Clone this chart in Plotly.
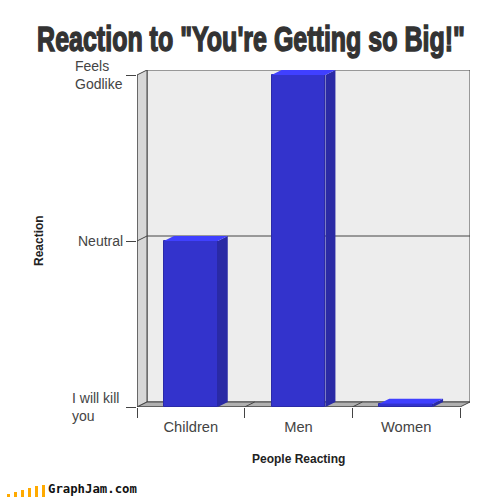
import plotly.graph_objects as go

title = 'Reaction to "You\'re Getting so Big!"'
categories = ["Children", "Men", "Women"]
reaction = [1.0, 2.0, 0.02]
level_vals = [0, 1, 2]
level_labels = ["I will kill<br>you", "Neutral", "Feels<br>Godlike"]
logo_heights = [3, 5, 7, 9, 11, 12]

# fake 3d depth, in axis units (10px across, 5px up)
DX = 10 / 107.67
DY = 5 / 166
HALF = 0.25
LINE = "#444444"
FONT = "Liberation Sans"
W, H = 504, 497


def seg(x0, y0, x1, y1, color=LINE):
    return dict(type="line", x0=x0, y0=y0, x1=x1, y1=y1, layer="below",
                line=dict(color=color, width=1))


def poly(xs, ys, fill):
    path = "M " + " L ".join(f"{x},{y}" for x, y in zip(xs, ys)) + " Z"
    return dict(type="path", path=path, layer="below", fillcolor=fill,
                line=dict(color=LINE, width=1))


left, right = -0.5, len(categories) - 0.5
top = max(level_vals)

shapes = [
    # back wall, side wall, floor
    poly([left + DX, right + DX, right + DX, left + DX],
         [DY, DY, top + DY, top + DY], "#ededed"),
    poly([left, left + DX, left + DX, left],
         [0, DY, top + DY, top], "#d7d7d7"),
    poly([left, left + DX, right + DX, right],
         [0, DY, DY, 0], "#b0b0b0"),
]
for v in level_vals[1:-1]:
    shapes.append(seg(left, v, left + DX, v + DY))
    shapes.append(seg(left + DX, v + DY, right + DX, v + DY))
for i in range(1, len(categories)):
    shapes.append(seg(left + i, 0, left + i + DX, DY))
shapes.append(seg(left, 0, right, 0))
shapes.append(seg(left, 0, left, top))

xs_side, ys_side, xs_top, ys_top = [], [], [], []
for i, v in enumerate(reaction):
    r = i + HALF
    l = i - HALF
    xs_side += [r, r + DX, r + DX, r, None]
    ys_side += [0, DY, v + DY, v, None]
    xs_top += [l, l + DX, r + DX, r, None]
    ys_top += [v, v + DY, v + DY, v, None]

fig = go.Figure()
fig.add_trace(go.Bar(x=list(range(len(categories))), y=reaction, width=2 * HALF,
                     marker=dict(color="#3333cc", line=dict(color="#2a2aa8", width=1))))
fig.add_trace(go.Scatter(x=xs_side, y=ys_side, mode="lines", fill="toself",
                         fillcolor="#2a2aa5", line=dict(width=0), cliponaxis=False))
fig.add_trace(go.Scatter(x=xs_top, y=ys_top, mode="lines", fill="toself",
                         fillcolor="#4040ff", line=dict(width=0), cliponaxis=False))
# logo bars
fig.add_trace(go.Bar(x=list(range(len(logo_heights))), y=logo_heights, width=0.43,
                     marker=dict(color="#ffaa00", line=dict(width=0)),
                     xaxis="x2", yaxis="y2"))

annotations = []
for v, lab, shift in zip(level_vals, level_labels, [-16, -12, -12]):
    annotations.append(dict(x=left, y=v, xref="x", yref="y", text=lab, showarrow=False,
                            xanchor="right", align="left", xshift=shift, yanchor="middle",
                            font=dict(family=FONT, size=14, color="#444444")))
annotations.append(dict(x=1, y=0, xref="x", yref="y", text="People Reacting", showarrow=False,
                        yshift=-52, yanchor="middle",
                        font=dict(family=FONT, size=12, color="#222222", weight="bold")))
annotations.append(dict(x=left, y=1, xref="x", yref="y", text="Reaction", showarrow=False,
                        xshift=-98, textangle=-90,
                        font=dict(family=FONT, size=12, color="#222222", weight="bold")))
annotations.append(dict(x=47 / W, y=0, xref="paper", yref="paper", text="GraphJam.com",
                        showarrow=False, xanchor="left", yanchor="bottom", borderpad=0,
                        font=dict(family="DejaVu Sans Mono", size=12.3, color="#111111", weight="bold")))

fig.update_layout(
    width=W, height=H, autosize=False,
    margin=dict(l=0, r=0, t=0, b=0, pad=0),
    paper_bgcolor="white", plot_bgcolor="white",
    showlegend=False, bargap=0,
    title=dict(text=title, x=251 / W, xanchor="center", xref="paper",
               y=1 - 39 / H, yanchor="middle",
               font=dict(family=FONT, size=35, color="#333333", weight="bold")),
    shapes=shapes,
    annotations=annotations,
    xaxis=dict(domain=[137 / W, 470 / W], range=[left, right + DX], tickmode="array",
               tickvals=list(range(len(categories))), ticktext=categories,
               ticks="", showgrid=False, zeroline=False, showline=False, fixedrange=True,
               tickfont=dict(family=FONT, size=14.7, color="#444444"),
               ticklabelstandoff=9,
               minor=dict(tickmode="array", tickvals=[left + i for i in range(len(categories) + 1)],
                          ticks="outside", ticklen=10, tickwidth=1, tickcolor=LINE, showgrid=False)),
    yaxis=dict(domain=[90 / H, 427 / H], range=[0, top + DY], tickmode="array", tickvals=level_vals,
               showticklabels=False, ticks="outside", ticklen=10, tickwidth=1, tickcolor=LINE,
               showgrid=False, zeroline=False, showline=False, fixedrange=True),
    xaxis2=dict(domain=[4.5 / W, 46.5 / W], range=[-0.5, 5.5], anchor="y2", visible=False, fixedrange=True),
    yaxis2=dict(domain=[0, 12 / H], range=[0, 12], anchor="x2", visible=False, fixedrange=True),
)

# no condensed heavy font here, so squeeze the bold title to the reference width
squeeze = """
document.body.style.margin = '0';
var t = document.querySelector('.gtitle');
var b = t.getBBox();
var cx = b.x + b.width / 2;
t.setAttribute('transform', 'translate(' + cx + ',0) scale(' + (428 / b.width) + ',1) translate(' + (-cx) + ',0)');
t.style.stroke = '#333333';
t.style.strokeWidth = '1.5px';
"""
fig.write_html("out.html", config={"displayModeBar": False}, post_script=squeeze)
